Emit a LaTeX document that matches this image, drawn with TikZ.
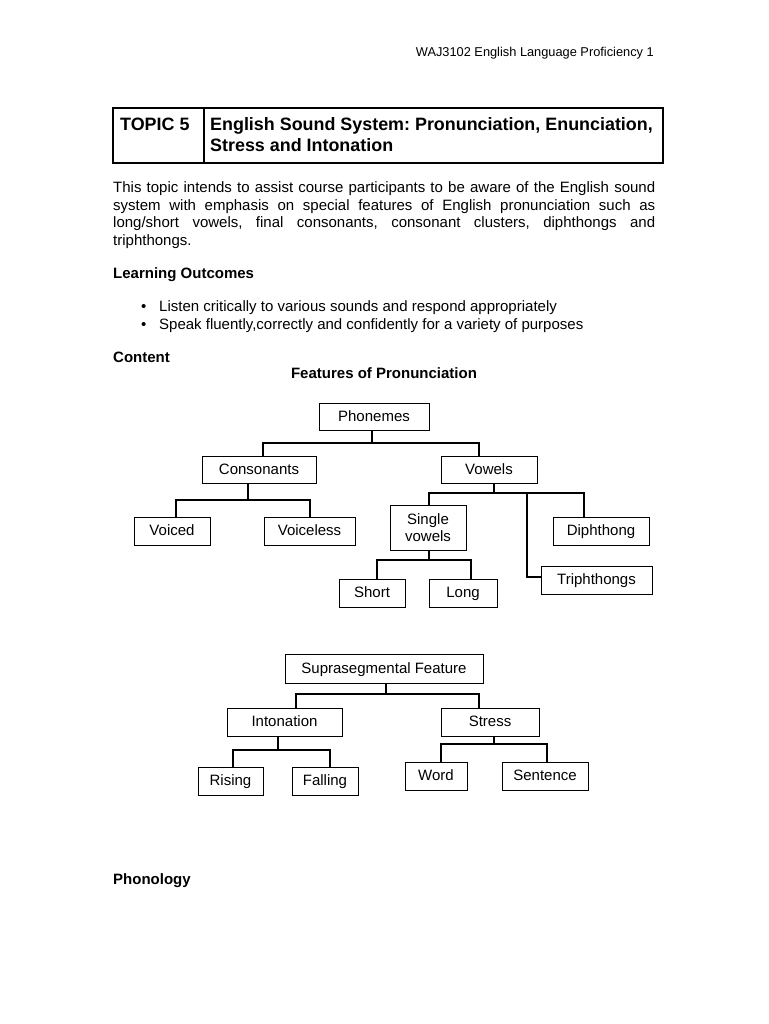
\documentclass[tikz,border=0pt]{standalone}
\usepackage{fontspec}
\setmainfont{Liberation Sans}
\frenchspacing
\begin{document}
\begin{tikzpicture}[x=1pt,y=-1pt,
  box/.style={draw, line width=1pt, inner sep=0pt, align=center, font=\fontsize{15}{17}\selectfont},
  lab/.style={text height=11pt, text depth=2pt},
  conn/.style={line width=1.6pt},
  txt/.style={inner sep=0pt, anchor=base west, font=\fontsize{15}{17}\selectfont},
  btxt/.style={inner sep=0pt, anchor=base west, font=\fontsize{15}{17}\selectfont\bfseries},
  ttxt/.style={inner sep=0pt, anchor=base west, font=\fontsize{17.9}{20}\selectfont\bfseries}]
\useasboundingbox[fill=white] (0,0) rectangle (768,1024);
% header
\node[inner sep=0pt, anchor=base east, font=\fontsize{12.8}{15}\selectfont] (hdr) at (654,57) {WAJ3102 English Language Proficiency 1};
% topic box
\node[draw, line width=1.8pt, minimum width=550pt, minimum height=55pt, inner sep=0pt] (tbox) at (388,135.5) {};
\draw[line width=1.8pt] (tbox.north west -| 204,0) -- (tbox.south west -| 204,0);
\node[ttxt] (topic) at (120,131) {TOPIC 5};
\node[ttxt] (title1) at (210,131) {English Sound System: Pronunciation, Enunciation,};
\node[ttxt] (title2) at (210,151.5) {Stress and Intonation};
% paragraph
\node[txt] (p1) at (113,193) {\makebox[542pt][s]{This topic intends to assist course participants to be aware of the English sound}};
\node[txt] (p2) at (113,210.5) {\makebox[542pt][s]{system with emphasis on special features of English pronunciation such as}};
\node[txt] (p3) at (113,228) {\makebox[542pt][s]{long/short vowels, final consonants, consonant clusters, diphthongs and}};
\node[txt] (p4) at (113,245.5) {triphthongs.};
\node[btxt] (lo) at (113,278) {Learning Outcomes};
\node[txt] (b1d) at (141,311) {\textbullet};
\node[txt] (b1) at (159,311) {Listen critically to various sounds and respond appropriately};
\node[txt] (b2d) at (141,329) {\textbullet};
\node[txt] (b2) at (159,329) {Speak fluently,correctly and confidently for a variety of purposes};
\node[btxt] (cont) at (113,362) {Content};
\node[btxt, anchor=base] (fop) at (384,378) {Features of Pronunciation};
% diagram 1
\node[box, lab, minimum width=110pt, minimum height=27pt] (phon) at (374,416.5) {Phonemes};
\node[box, lab, minimum width=114pt, minimum height=27pt] (cons) at (259,469.5) {Consonants};
\node[box, lab, minimum width=96pt, minimum height=27pt] (vow) at (489,469.5) {Vowels};
\node[box, lab, minimum width=76pt, minimum height=28pt] (voiced) at (172,531) {Voiced};
\node[box, lab, minimum width=91pt, minimum height=28pt] (voiceless) at (309.5,531) {Voiceless};
\node[box, minimum width=76pt, minimum height=45pt] (single) at (428,527.5) {Single\\vowels};
\node[box, lab, minimum width=96pt, minimum height=28pt] (diph) at (601,531) {Diphthong};
\node[box, lab, minimum width=66pt, minimum height=28pt] (short) at (372,593) {Short};
\node[box, lab, minimum width=68pt, minimum height=28pt] (long) at (463,593) {Long};
\node[box, lab, minimum width=111pt, minimum height=28pt] (trip) at (596.5,580) {Triphthongs};
\coordinate (j1) at (372,443);
\coordinate (j2) at (248,500);
\coordinate (j3) at (494,493);
\coordinate (j4) at (429,560);
\draw[conn] ([xshift=-2pt]phon.south) -- (j1);
\draw[conn] ([xshift=4pt]cons.north) |- (j1) -| ([xshift=-10pt]vow.north);
\draw[conn] ([xshift=-11pt]cons.south) -- (j2);
\draw[conn] ([xshift=4pt]voiced.north) |- (j2) -| ([xshift=0.5pt]voiceless.north);
\draw[conn] ([xshift=5pt]vow.south) -- (j3);
\draw[conn] ([xshift=1pt]single.north) |- (j3) -| ([xshift=-17pt]diph.north);
\draw[conn] (j3 -| 527,0) |- (trip.west |- 0,577);
\draw[conn] ([xshift=1pt]single.south) -- (j4);
\draw[conn] ([xshift=5pt]short.north) |- (j4) -| ([xshift=8pt]long.north);
% diagram 2
\node[box, lab, minimum width=198pt, minimum height=29pt] (supra) at (384,668.5) {Suprasegmental Feature};
\node[box, lab, minimum width=115pt, minimum height=28pt] (inton) at (284.5,722) {Intonation};
\node[box, lab, minimum width=98pt, minimum height=28pt] (stress) at (490,722) {Stress};
\node[box, lab, minimum width=65pt, minimum height=28pt] (rising) at (230.5,781) {Rising};
\node[box, lab, minimum width=66pt, minimum height=28pt] (falling) at (325,781) {Falling};
\node[box, lab, minimum width=62pt, minimum height=28pt] (word) at (436,776) {Word};
\node[box, lab, minimum width=86pt, minimum height=28pt] (sent) at (545,776) {Sentence};
\coordinate (k1) at (386,694);
\coordinate (k2) at (278,750);
\coordinate (k3) at (494,744);
\draw[conn] ([xshift=2pt]supra.south) -- (k1);
\draw[conn] ([xshift=11.5pt]inton.north) |- (k1) -| ([xshift=-11pt]stress.north);
\draw[conn] ([xshift=-6.5pt]inton.south) -- (k2);
\draw[conn] ([xshift=2.5pt]rising.north) |- (k2) -| ([xshift=5pt]falling.north);
\draw[conn] ([xshift=4pt]stress.south) -- (k3);
\draw[conn] ([xshift=5pt]word.north) |- (k3) -| ([xshift=2pt]sent.north);
\node[btxt] (phono) at (113,884) {Phonology};
\end{tikzpicture}
\end{document}
